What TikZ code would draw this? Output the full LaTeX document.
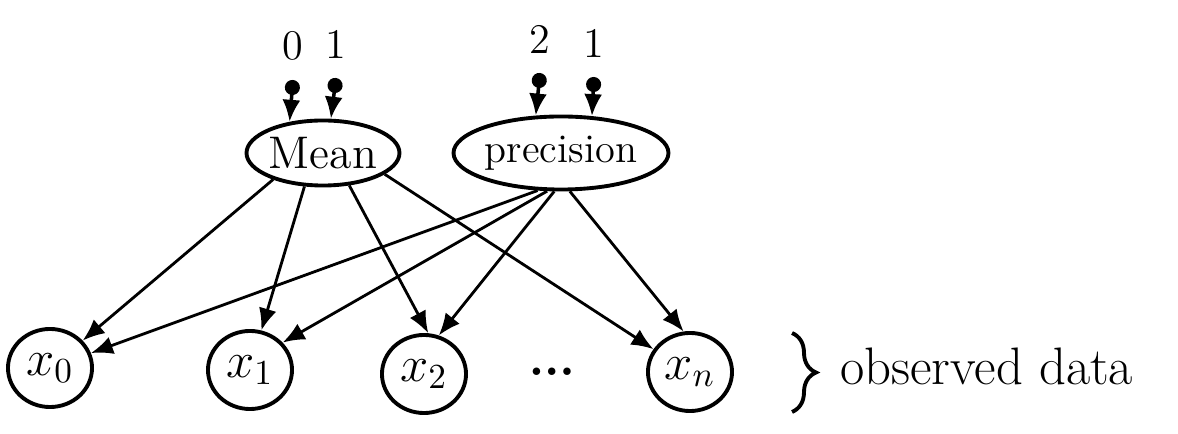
\documentclass[tikz,border=0pt]{standalone}
\usetikzlibrary{arrows.meta,positioning,shapes.geometric,decorations.pathreplacing}

\begin{document}
\begin{tikzpicture}[
  x=0.01cm, y=-0.01cm,
  param/.style={draw, ellipse, line width=1.1pt, inner sep=0pt},
  obs/.style={draw, ellipse, line width=1.1pt, minimum width=8.4mm, minimum height=7.8mm, inner sep=0pt, font=\Large},
  hyper/.style={font=\large, inner sep=1pt},
  feed/.style={{Circle[length=1.5mm]}-{Latex[length=2.2mm, width=1.8mm]}, line width=1pt},
  arrow/.style={-{Latex[length=2.2mm, width=1.8mm]}, line width=0.8pt},
  bracket/.style={decorate, decoration={brace, amplitude=2.4mm}, line width=1.1pt}
]
\useasboundingbox (0,0) rectangle (1178,434);
% parameters
\node[param, minimum width=15mm, minimum height=6.5mm, font=\fontsize{13}{15}\selectfont] (mean) at (323,153) {Mean};
\node[param, minimum width=17.3mm, minimum height=7.3mm, font=\fontsize{11.5}{14}\selectfont] (prec) at (561,153) {precision};
% observed data
\node[obs] (x0) at (50,368) {$x_0$};
\node[obs] (x1) at (250,370) {$x_1$};
\node[obs] (x2) at (424,374) {$x_2$};
\node[font=\fontsize{26}{30}\selectfont] (dots) at (552,372) {\dots};
\node[obs] (xn) at (690,372) {$x_n$};
% hyperparameters
\coordinate (m0) at (293,80);
\coordinate (m1) at (336,78);
\coordinate (p0) at (540,73);
\coordinate (p1) at (594,77);
\node[hyper, above=1.5mm of m0] (m0lab) {0};
\node[hyper, above=1.5mm of m1] (m1lab) {1};
\node[hyper, above=1.5mm of p0] (p0lab) {2};
\node[hyper, above=1.5mm of p1] (p1lab) {1};
\draw[feed] (m0) -- (mean.137);
\draw[feed] (m1) -- (mean.77);
\draw[feed] (p0) -- (prec.124);
\draw[feed] (p1) -- (prec.50);
% edges
\draw[arrow] (mean.208) -- (x0.40);
\draw[arrow] (mean.241) -- (x1.74);
\draw[arrow] (mean.309) -- (x2.84);
\draw[arrow] (mean.341) -- (xn.148);
\draw[arrow] (prec.238) -- (x0.20);
\draw[arrow] (prec.250) -- (x1.40);
\draw[arrow] (prec.260) -- (x2.69);
\draw[arrow] (prec.283) -- (xn.99);
% label
\coordinate (btop) at (792,333);
\coordinate (bbot) at (792,412);
\draw[bracket] (btop) -- (bbot);
\node[anchor=west, font=\fontsize{15}{18}\selectfont] (obslab) at (828,366) {observed data};
\end{tikzpicture}
\end{document}
